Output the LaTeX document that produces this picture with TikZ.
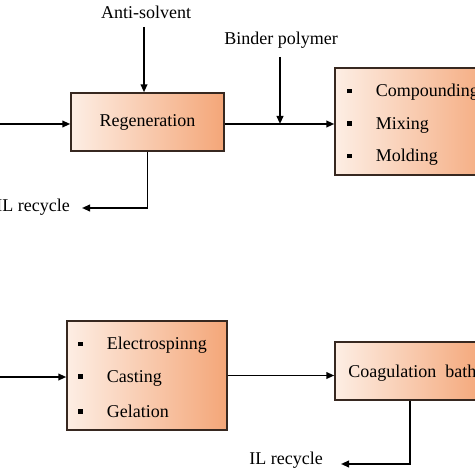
\documentclass[tikz,border=0pt]{standalone}
\usepackage{fontspec}
\setmainfont{Liberation Serif}
\usetikzlibrary{arrows.meta}

\definecolor{boxlight}{RGB}{253,238,228}
\definecolor{boxdark}{RGB}{244,166,120}
\definecolor{boxline}{RGB}{55,40,32}
\newcommand{\sqbul}{\rule[2.4pt]{3.4pt}{3.4pt}\hspace{18pt}}

\begin{document}
\begin{tikzpicture}[x=0.75pt,y=0.75pt,yscale=-1,xscale=1,
    every node/.style={font=\fontsize{13.5}{16}\selectfont},
    procbox/.style={draw=boxline, line width=1.1pt, left color=boxlight, right color=boxdark, inner sep=0pt},
    item/.style={anchor=west, inner sep=0pt},
    flow/.style={line width=1.3pt, -{Triangle[length=6pt,width=5pt]}}]
        \useasboundingbox (0,0) rectangle (474,474);

        %Shape: Rectangle [id:regen]
        \node (regen) [procbox, minimum width=114.75pt, minimum height=43.5pt] at (147.5,122) {Regeneration};
        %Shape: Rectangle [id:proc]
        \node (proc) [procbox, minimum width=123.75pt, minimum height=80.25pt] at (417.5,121.5) {};
        %Shape: Rectangle [id:spin]
        \node (spin) [procbox, minimum width=120pt, minimum height=81.75pt] at (147,375.5) {};
        %Shape: Rectangle [id:coag]
        \node (coag) [procbox, minimum width=112.5pt, minimum height=43.5pt] at (410,371) {};

        % Text Node
        \node (anti) [inner sep=0.75pt] at (146,12) {Anti-solvent};
        % Text Node
        \node (binder) [inner sep=0.75pt] at (281,40) {Binder polymer};
        % Text Node
        \node (rec1) [inner sep=0.75pt, anchor=east] at (71,207) {IL recycle};
        % Text Node
        \node (rec2) [inner sep=0.75pt, anchor=east] at (324,460) {IL recycle};
        % Text Node
        \node (cbath) [item] at (348,373) {Coagulation\ \ bath};

        % Text Node
        \node (cmp) [item] at (347,92) {\sqbul Compounding};
        \node (mix) [item] at (347,125) {\sqbul Mixing};
        \node (mld) [item] at (347,157) {\sqbul Molding};
        % Text Node
        \node (els) [item] at (78,345) {\sqbul Electrospinng};
        \node (cst) [item] at (78,378) {\sqbul Casting};
        \node (gel) [item] at (78,411) {\sqbul Gelation};

        \coordinate (in1) at (0,124);
        \coordinate (in2) at (0,377);
        \coordinate (a1) at (144,27);
        \coordinate (b1) at (280,57);
        \coordinate (r1) at (82,208);
        \coordinate (r2) at (341,464);

        %Straight Lines
        \draw [flow] (in1) -- (in1 -| regen.west);
        \draw [flow] (a1) -- (a1 |- regen.north);
        \draw [flow] (in1 -| regen.east) -- (in1 -| proc.west);
        \draw [flow] (b1) -- (b1 |- in1);
        \draw [flow] (regen.south) |- (r1);

        \draw [flow] (in2) -- (in2 -| spin.west);
        \draw [flow] (spin.east) -- (spin.east -| coag.west);
        \draw [flow] (coag.south) |- (r2);
\end{tikzpicture}
\end{document}
